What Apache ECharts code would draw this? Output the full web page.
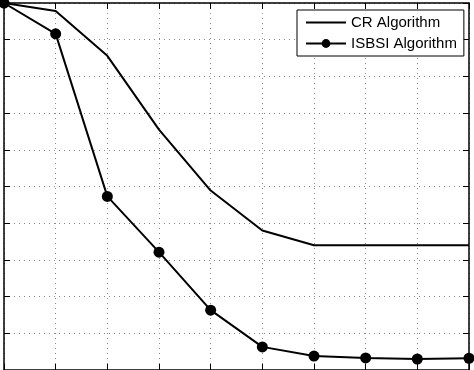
<!DOCTYPE html>
<html>
<head>
<meta charset="utf-8">
<script src="https://cdn.jsdelivr.net/npm/echarts@6/dist/echarts.min.js"></script>
<style>
  html, body { margin: 0; padding: 0; background: #fff; }
  #main { width: 474px; height: 370px; }
</style>
</head>
<body>
<div id="main"></div>
<script>
// x positions (labels are cut off in the picture)
var steps = ['1', '2', '3', '4', '5', '6', '7', '8', '9', '10'];
// values, y axis 0..10
var crAlgo = [10, 9.78, 8.56, 6.55, 4.89, 3.80, 3.40, 3.40, 3.40, 3.40];
var isbsiAlgo = [10, 9.16, 4.73, 3.21, 1.63, 0.63, 0.38, 0.33, 0.30, 0.32];

var chart = echarts.init(document.getElementById('main'));

var tick = { show: true, inside: true, length: 6, lineStyle: { color: '#000', width: 1 } };
var frame = { show: true, onZero: false, lineStyle: { color: '#000', width: 1.5 } };
var dots = { show: true, lineStyle: { color: '#8a8a8a', width: 1, type: [1, 4] } };

var option = {
  animation: false,
  backgroundColor: '#fff',
  grid: { left: 4, right: 5, top: 3, bottom: -2 },
  legend: {
    orient: 'vertical',
    left: 297,
    top: 10,
    itemWidth: 40,
    itemHeight: 11,
    itemGap: 6,
    padding: [5, 7, 5, 8],
    backgroundColor: '#fff',
    borderColor: '#000',
    borderWidth: 1,
    borderRadius: 0,
    textStyle: { fontFamily: 'Liberation Sans', fontSize: 15, color: '#000' },
    data: [
      { name: 'CR Algorithm', itemStyle: { opacity: 0 } },
      'ISBSI Algorithm'
    ]
  },
  xAxis: [
    { type: 'category', data: steps, boundaryGap: false, position: 'bottom',
      axisLine: frame, axisTick: tick, axisLabel: { show: false }, splitLine: dots },
    { type: 'category', data: steps, boundaryGap: false, position: 'top',
      axisLine: frame, axisTick: tick, axisLabel: { show: false }, splitLine: { show: false } }
  ],
  yAxis: [
    { type: 'value', min: 0, max: 10, interval: 1, position: 'left',
      axisLine: frame, axisTick: tick, axisLabel: { show: false }, splitLine: dots },
    { type: 'value', min: 0, max: 10, interval: 1, position: 'right',
      axisLine: frame, axisTick: tick, axisLabel: { show: false }, splitLine: { show: false } }
  ],
  series: [
    {
      name: 'CR Algorithm',
      type: 'line',
      data: crAlgo,
      symbol: 'none',
      lineStyle: { color: '#000', width: 2 },
      itemStyle: { color: '#000' }
    },
    {
      name: 'ISBSI Algorithm',
      type: 'line',
      data: isbsiAlgo,
      symbol: 'circle',
      symbolSize: 11,
      clip: false,
      lineStyle: { color: '#000', width: 2 },
      itemStyle: { color: '#000' }
    }
  ]
};

chart.setOption(option);
</script>
</body>
</html>
